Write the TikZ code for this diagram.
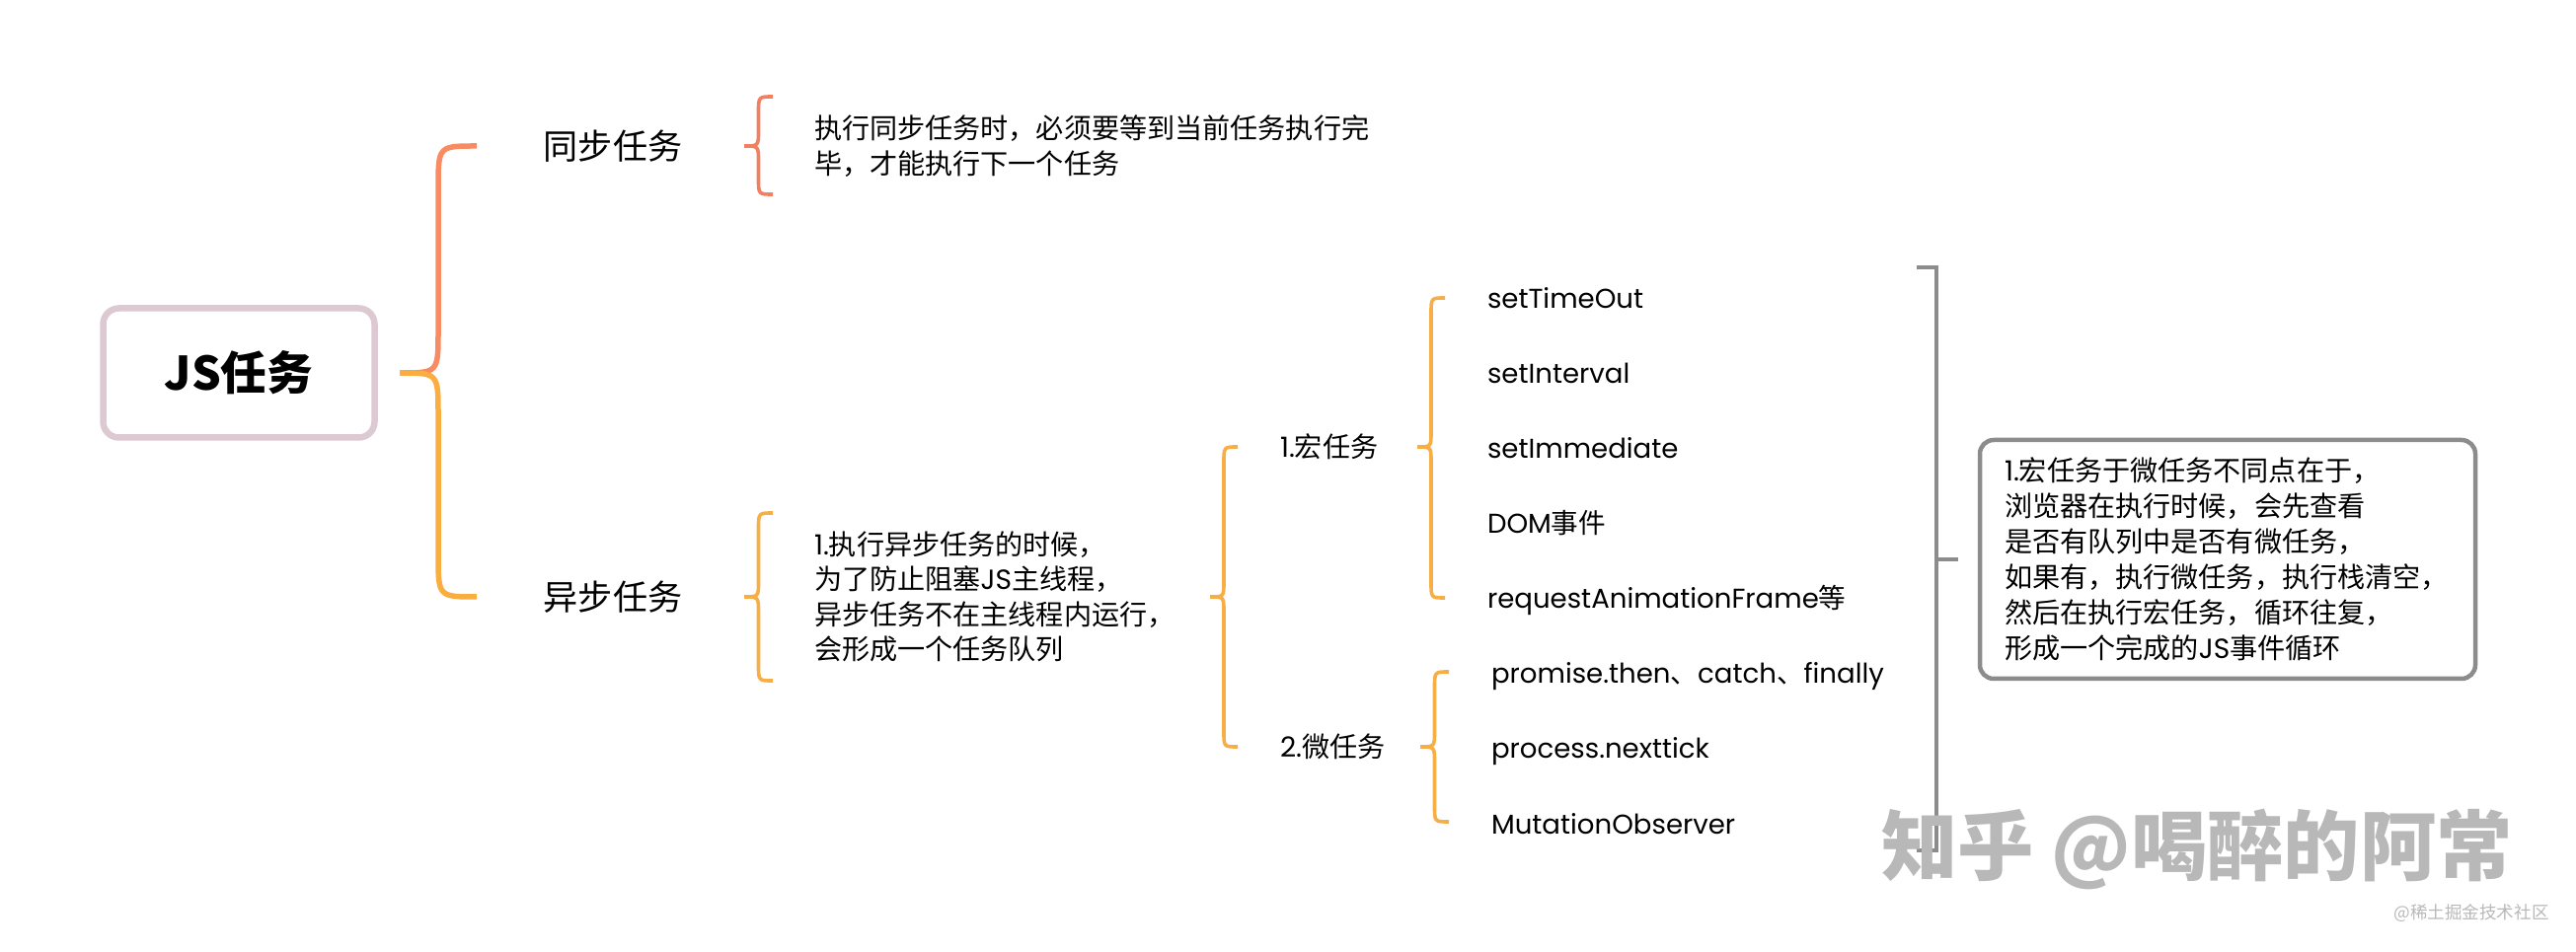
\documentclass[tikz,border=0pt]{standalone}
\usepackage{fontspec}
\setmainfont{Poppins}
\newfontfamily\cjk{Noto Sans CJK SC}
\usetikzlibrary{calc}
\definecolor{rootline}{HTML}{DDC9D1}
\definecolor{syncline}{HTML}{F98B62}
\definecolor{asyncline}{HTML}{FBAE40}
\definecolor{syncthin}{HTML}{F27F60}
\definecolor{asyncthin}{HTML}{F7AF45}
\definecolor{grayline}{HTML}{8C8C8C}
\definecolor{markgray}{HTML}{B8B8B8}
\tikzset{bracearm/.style={to path={let \p1=(\tikztostart), \p2=(\tikztotarget), \n1={(\x1+\x2)/2}, \n2={0.55*(\x2-\x1)*#1} in (\p1) .. controls (\n1,\y1) .. (\n1,\y1+\n2) -- (\n1,\y2-\n2) .. controls (\n1,\y2) .. (\p2)}}}
\tikzstyle{rootbox} = [rectangle, rounded corners=0.16cm, draw=rootline, line width=0.065cm, minimum width=2.75cm, minimum height=1.31cm, font=\fontsize{13.3}{16}\cjk\bfseries]
\tikzstyle{branch} = [inner sep=0pt, font=\fontsize{10}{12}\cjk]
\tikzstyle{note} = [inner sep=0pt, text width=5.8cm, align=left, font=\fontsize{8}{10.1}\cjk]
\tikzstyle{kind} = [inner sep=0pt, text width=1.2cm, align=left, font=\fontsize{8}{10}\cjk]
\tikzstyle{item} = [inner sep=0pt, text width=4.5cm, align=left, text height=0.3cm, text depth=0.06cm, font=\fontsize{7.85}{10}\selectfont]
\tikzstyle{diffbox} = [rectangle, rounded corners=0.14cm, draw=grayline, line width=0.045cm, inner xsep=0.25cm, inner ysep=0.1cm, text width=4.52cm, minimum height=2.42cm, align=left, font=\fontsize{8}{10.24}\cjk]
\tikzstyle{thickbrace} = [line width=0.055cm]
\tikzstyle{thinbrace} = [line width=0.036cm, asyncthin]
\tikzstyle{graybar} = [line width=0.04cm, grayline]

\begin{document}
\begin{tikzpicture}[node distance=0.76cm]
                        \useasboundingbox (0,0) rectangle (26.1,9.64);

                        \node (root) [rootbox] at (2.42,5.86) {JS任务};
                        \node (sync) [branch, right of=root, xshift=3.03cm, yshift=2.30cm] {同步任务};
                        \node (async) [branch, below of=sync, yshift=-3.81cm] {异步任务};

                        \node (syncnote) [note, right of=sync, xshift=4.18cm] {执行同步任务时，必须要等到当前任务执行完\\毕，才能执行下一个任务};
                        \node (asyncnote) [note, right of=async, xshift=4.18cm] {{\rmfamily 1.}执行异步任务的时候，\\为了防止阻塞{\rmfamily JS}主线程，\\异步任务不在主线程内运行，\\会形成一个任务队列};

                        \node (macro) [kind, right of=asyncnote, xshift=1.66cm, yshift=1.52cm] {{\rmfamily 1.}宏任务};
                        \node (micro) [kind, below of=macro, yshift=-2.28cm] {{\rmfamily 2.}微任务};

                        \node (timeout) [item, right of=macro, xshift=2.99cm, yshift=1.52cm] {setTimeOut};
                        \node (interval) [item, below of=timeout] {setInterval};
                        \node (immediate) [item, below of=interval] {setImmediate};
                        \node (domevent) [item, below of=immediate] {DOM{\cjk 事件}};
                        \node (animframe) [item, below of=domevent] {requestAnimationFrame{\cjk 等}};

                        \node (promise) [item, right of=micro, xshift=3.03cm, yshift=0.76cm] {promise.then{\cjk 、}catch{\cjk 、}finally};
                        \node (nexttick) [item, below of=promise] {process.nexttick};
                        \node (observer) [item, below of=nexttick] {MutationObserver};

                        \node (diff) [diffbox, right of=promise, xshift=4.45cm, yshift=1.14cm] {{\rmfamily 1.}宏任务于微任务不同点在于，\\浏览器在执行时候，会先查看\\是否有队列中是否有微任务，\\如果有，执行微任务，执行栈清空，\\然后在执行宏任务，循环往复，\\形成一个完成的{\rmfamily JS}事件循环};

                        \coordinate [right of=root, xshift=0.87cm] (roottip);
                        \coordinate [left of=sync, xshift=-0.62cm] (syncend);
                        \coordinate [left of=async, xshift=-0.62cm] (asyncend);

                        \coordinate [right of=sync, xshift=0.57cm] (synctip);
                        \coordinate [left of=syncnote, xshift=-2.56cm, yshift=0.50cm] (syncup);
                        \coordinate [left of=syncnote, xshift=-2.56cm, yshift=-0.49cm] (syncdown);

                        \coordinate [right of=async, xshift=0.57cm] (asynctip);
                        \coordinate [left of=asyncnote, xshift=-2.56cm, yshift=0.85cm] (asyncup);
                        \coordinate [left of=asyncnote, xshift=-2.56cm, yshift=-0.85cm] (asyncdown);

                        \coordinate [right of=asyncnote, xshift=0.35cm] (notetip);
                        \coordinate [left of=macro, xshift=-0.27cm] (macroend);
                        \coordinate [left of=micro, xshift=-0.27cm] (microend);

                        \coordinate [right of=macro, xshift=0.03cm] (macrotip);
                        \coordinate [left of=timeout, xshift=-1.92cm, yshift=-0.01cm] (timeoutend);
                        \coordinate [left of=animframe, xshift=-1.92cm, yshift=-0.01cm] (animend);

                        \coordinate [right of=micro, xshift=0.06cm] (microtip);
                        \coordinate [left of=promise, xshift=-1.92cm] (promiseend);
                        \coordinate [left of=observer, xshift=-1.92cm] (observerend);

                        \coordinate (graymid) at ($(diff.west)+(-0.415cm,0)$);
                        \coordinate (grayup) at ($(graymid)+(-0.205cm,2.96cm)$);
                        \coordinate (graydown) at ($(graymid)+(-0.205cm,-2.95cm)$);

                        \draw [thickbrace, syncline, bracearm=1] (roottip) to (syncend);
                        \draw [thickbrace, asyncline, bracearm=-1] (roottip) to (asyncend);
                        \draw [thinbrace, syncthin, bracearm=1] (synctip) to (syncup);
                        \draw [thinbrace, syncthin, bracearm=-1] (synctip) to (syncdown);
                        \draw [thinbrace, bracearm=1] (asynctip) to (asyncup);
                        \draw [thinbrace, bracearm=-1] (asynctip) to (asyncdown);
                        \draw [thinbrace, bracearm=1] (notetip) to (macroend);
                        \draw [thinbrace, bracearm=-1] (notetip) to (microend);
                        \draw [thinbrace, bracearm=1] (macrotip) to (timeoutend);
                        \draw [thinbrace, bracearm=-1] (macrotip) to (animend);
                        \draw [thinbrace, bracearm=1] (microtip) to (promiseend);
                        \draw [thinbrace, bracearm=-1] (microtip) to (observerend);

                        \draw [graybar] (grayup) -| (graymid) |- (graydown);
                        \draw [graybar, shorten >=0.2cm] (graymid) -- (diff.west);

                        \node (zhihu) [below of=diff, xshift=-0.31cm, yshift=-2.18cm, inner sep=0pt, text=markgray, font=\fontsize{22}{24}\cjk\bfseries] {知乎 @喝醉的阿常};
                        \node (juejin) [right of=zhihu, xshift=2.02cm, yshift=-0.65cm, inner sep=0pt, text=markgray, font=\fontsize{5}{6}\cjk] {@稀土掘金技术社区};
                    \end{tikzpicture}
\end{document}
